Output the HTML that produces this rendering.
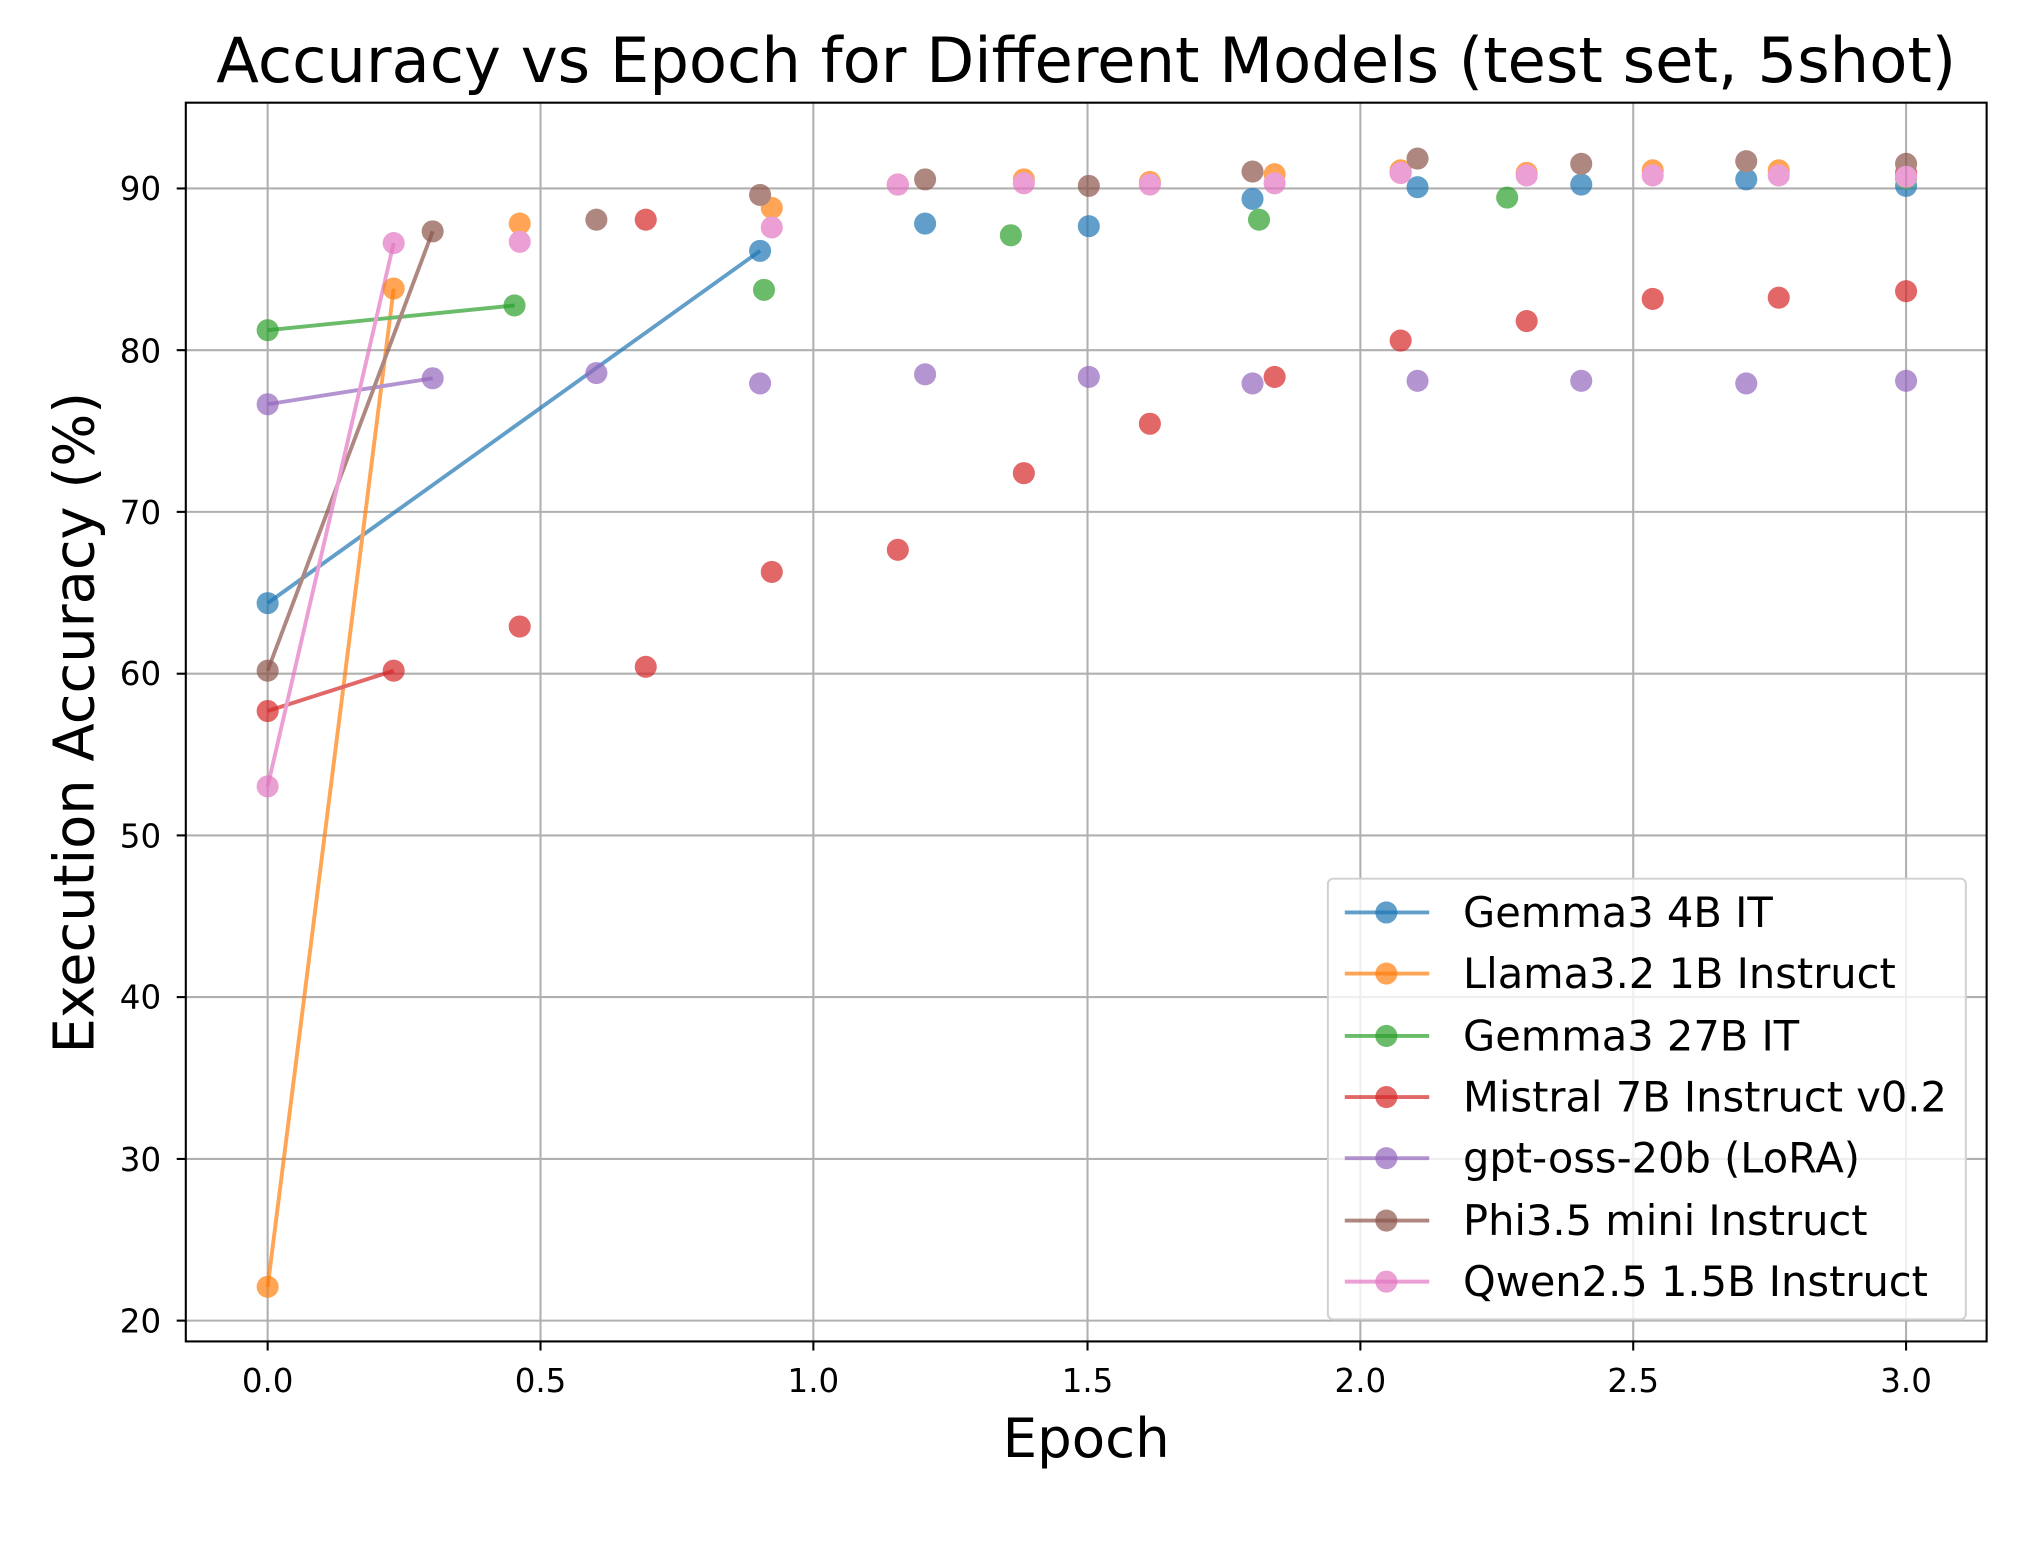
<!DOCTYPE html>
<html><head><style>html,body{margin:0;padding:0;background:#fff}svg{display:block}</style></head>
<body>
<svg width="2036" height="1552" viewBox="0 0 1567 1194" preserveAspectRatio="none" xmlns="http://www.w3.org/2000/svg" font-family="DejaVu Sans, Liberation Sans, sans-serif">
<rect width="1567" height="1194" fill="#fff"/>
<g stroke="#b0b0b0" stroke-width="1.6">
<line x1="206" y1="79" x2="206" y2="1032"/><line x1="416" y1="79" x2="416" y2="1032"/><line x1="626" y1="79" x2="626" y2="1032"/><line x1="837" y1="79" x2="837" y2="1032"/><line x1="1047" y1="79" x2="1047" y2="1032"/><line x1="1257" y1="79" x2="1257" y2="1032"/><line x1="1467" y1="79" x2="1467" y2="1032"/>
<line x1="143" y1="145" x2="1529" y2="145"/><line x1="143" y1="269.4" x2="1529" y2="269.4"/><line x1="143" y1="393.8" x2="1529" y2="393.8"/><line x1="143" y1="518.3" x2="1529" y2="518.3"/><line x1="143" y1="642.7" x2="1529" y2="642.7"/><line x1="143" y1="767.1" x2="1529" y2="767.1"/><line x1="143" y1="891.6" x2="1529" y2="891.6"/><line x1="143" y1="1016" x2="1529" y2="1016"/>
</g>
<g stroke-width="3" opacity="0.7">
<line x1="206" y1="464" x2="585" y2="193" stroke="#1f77b4"/>
<line x1="206" y1="990" x2="303" y2="222" stroke="#ff7f0e"/>
<line x1="206" y1="254" x2="396" y2="235" stroke="#2ca02c"/>
<line x1="206" y1="547" x2="303" y2="516" stroke="#d62728"/>
<line x1="206" y1="311" x2="333" y2="291" stroke="#9467bd"/>
<line x1="206" y1="516" x2="333" y2="178" stroke="#8c564b"/>
<line x1="206" y1="605" x2="303" y2="187" stroke="#e377c2"/>
</g>
<g opacity="0.7">
<g fill="#1f77b4"><circle cx="206" cy="464" r="8.5"/><circle cx="585" cy="193" r="8.5"/><circle cx="712" cy="172" r="8.5"/><circle cx="838" cy="174" r="8.5"/><circle cx="964" cy="153" r="8.5"/><circle cx="1091" cy="144" r="8.5"/><circle cx="1217" cy="142" r="8.5"/><circle cx="1344" cy="138" r="8.5"/><circle cx="1467" cy="143" r="8.5"/></g>
<g fill="#ff7f0e"><circle cx="206" cy="990" r="8.5"/><circle cx="303" cy="222" r="8.5"/><circle cx="400" cy="172" r="8.5"/><circle cx="594" cy="160" r="8.5"/><circle cx="788" cy="138" r="8.5"/><circle cx="885" cy="140" r="8.5"/><circle cx="981" cy="134" r="8.5"/><circle cx="1078" cy="131" r="8.5"/><circle cx="1175" cy="133" r="8.5"/><circle cx="1272" cy="131" r="8.5"/><circle cx="1369" cy="131" r="8.5"/><circle cx="1467" cy="135" r="8.5"/></g>
<g fill="#2ca02c"><circle cx="206" cy="254" r="8.5"/><circle cx="396" cy="235" r="8.5"/><circle cx="588" cy="223" r="8.5"/><circle cx="778" cy="181" r="8.5"/><circle cx="969" cy="169" r="8.5"/><circle cx="1160" cy="152" r="8.5"/><circle cx="1467" cy="137" r="8.5"/></g>
<g fill="#d62728"><circle cx="206" cy="547" r="8.5"/><circle cx="303" cy="516" r="8.5"/><circle cx="400" cy="482" r="8.5"/><circle cx="497" cy="513" r="8.5"/><circle cx="594" cy="440" r="8.5"/><circle cx="691" cy="423" r="8.5"/><circle cx="788" cy="364" r="8.5"/><circle cx="885" cy="326" r="8.5"/><circle cx="981" cy="290" r="8.5"/><circle cx="1078" cy="262" r="8.5"/><circle cx="1175" cy="247" r="8.5"/><circle cx="1272" cy="230" r="8.5"/><circle cx="1369" cy="229" r="8.5"/><circle cx="1467" cy="224" r="8.5"/><circle cx="497" cy="169" r="8.5"/><circle cx="691" cy="142" r="8.5"/><circle cx="1078" cy="133" r="8.5"/><circle cx="1467" cy="133" r="8.5"/></g>
<g fill="#9467bd"><circle cx="206" cy="311" r="8.5"/><circle cx="333" cy="291" r="8.5"/><circle cx="459" cy="287" r="8.5"/><circle cx="585" cy="295" r="8.5"/><circle cx="712" cy="288" r="8.5"/><circle cx="838" cy="290" r="8.5"/><circle cx="964" cy="295" r="8.5"/><circle cx="1091" cy="293" r="8.5"/><circle cx="1217" cy="293" r="8.5"/><circle cx="1344" cy="295" r="8.5"/><circle cx="1467" cy="293" r="8.5"/></g>
<g fill="#8c564b"><circle cx="206" cy="516" r="8.5"/><circle cx="333" cy="178" r="8.5"/><circle cx="459" cy="169" r="8.5"/><circle cx="585" cy="150" r="8.5"/><circle cx="712" cy="138" r="8.5"/><circle cx="838" cy="143" r="8.5"/><circle cx="964" cy="132" r="8.5"/><circle cx="1091" cy="122" r="8.5"/><circle cx="1217" cy="126" r="8.5"/><circle cx="1344" cy="124" r="8.5"/><circle cx="1467" cy="126" r="8.5"/></g>
<g fill="#e377c2"><circle cx="206" cy="605" r="8.5"/><circle cx="303" cy="187" r="8.5"/><circle cx="400" cy="186" r="8.5"/><circle cx="594" cy="175" r="8.5"/><circle cx="691" cy="142" r="8.5"/><circle cx="788" cy="141" r="8.5"/><circle cx="885" cy="142" r="8.5"/><circle cx="981" cy="141" r="8.5"/><circle cx="1078" cy="133" r="8.5"/><circle cx="1175" cy="135" r="8.5"/><circle cx="1272" cy="135" r="8.5"/><circle cx="1369" cy="135" r="8.5"/><circle cx="1467" cy="136" r="8.5"/></g>
</g>
<rect x="143" y="79" width="1386" height="953" fill="none" stroke="#000" stroke-width="1.6"/>
<g stroke="#000" stroke-width="1.6">
<line x1="206" y1="1032" x2="206" y2="1039"/><line x1="416" y1="1032" x2="416" y2="1039"/><line x1="626" y1="1032" x2="626" y2="1039"/><line x1="837" y1="1032" x2="837" y2="1039"/><line x1="1047" y1="1032" x2="1047" y2="1039"/><line x1="1257" y1="1032" x2="1257" y2="1039"/><line x1="1467" y1="1032" x2="1467" y2="1039"/>
<line x1="136" y1="145" x2="143" y2="145"/><line x1="136" y1="269.4" x2="143" y2="269.4"/><line x1="136" y1="393.8" x2="143" y2="393.8"/><line x1="136" y1="518.3" x2="143" y2="518.3"/><line x1="136" y1="642.7" x2="143" y2="642.7"/><line x1="136" y1="767.1" x2="143" y2="767.1"/><line x1="136" y1="891.6" x2="143" y2="891.6"/><line x1="136" y1="1016" x2="143" y2="1016"/>
</g>
<g font-size="25" text-anchor="middle" fill="#000">
<text x="206" y="1071">0.0</text><text x="416" y="1071">0.5</text><text x="626" y="1071">1.0</text><text x="837" y="1071">1.5</text><text x="1047" y="1071">2.0</text><text x="1257" y="1071">2.5</text><text x="1467" y="1071">3.0</text>
</g>
<g font-size="25" text-anchor="end" fill="#000">
<text x="124" y="154">90</text><text x="124" y="279">80</text><text x="124" y="403">70</text><text x="124" y="527">60</text><text x="124" y="652">50</text><text x="124" y="776">40</text><text x="124" y="901">30</text><text x="124" y="1025">20</text>
</g>
<text x="836" y="63" font-size="48" text-anchor="middle">Accuracy vs Epoch for Different Models (test set, 5shot)</text>
<text x="836" y="1121" font-size="42" text-anchor="middle">Epoch</text>
<text transform="translate(72,556) rotate(-90)" font-size="43" text-anchor="middle">Execution Accuracy (%)</text>
<rect x="1022" y="676" width="491" height="339" rx="4" fill="#fff" fill-opacity="0.8" stroke="#d0d0d0" stroke-width="1.5"/>
<g stroke-width="3" opacity="0.7">
<line x1="1035" y1="702" x2="1100" y2="702" stroke="#1f77b4"/><line x1="1035" y1="749" x2="1100" y2="749" stroke="#ff7f0e"/><line x1="1035" y1="797" x2="1100" y2="797" stroke="#2ca02c"/><line x1="1035" y1="844" x2="1100" y2="844" stroke="#d62728"/><line x1="1035" y1="891" x2="1100" y2="891" stroke="#9467bd"/><line x1="1035" y1="939" x2="1100" y2="939" stroke="#8c564b"/><line x1="1035" y1="986" x2="1100" y2="986" stroke="#e377c2"/>
</g>
<g opacity="0.7">
<circle cx="1067" cy="702" r="8.5" fill="#1f77b4"/><circle cx="1067" cy="749" r="8.5" fill="#ff7f0e"/><circle cx="1067" cy="797" r="8.5" fill="#2ca02c"/><circle cx="1067" cy="844" r="8.5" fill="#d62728"/><circle cx="1067" cy="891" r="8.5" fill="#9467bd"/><circle cx="1067" cy="939" r="8.5" fill="#8c564b"/><circle cx="1067" cy="986" r="8.5" fill="#e377c2"/>
</g>
<g font-size="32" fill="#000">
<text x="1126" y="713">Gemma3 4B IT</text><text x="1126" y="760">Llama3.2 1B Instruct</text><text x="1126" y="808">Gemma3 27B IT</text><text x="1126" y="855">Mistral 7B Instruct v0.2</text><text x="1126" y="902">gpt-oss-20b (LoRA)</text><text x="1126" y="950">Phi3.5 mini Instruct</text><text x="1126" y="997">Qwen2.5 1.5B Instruct</text>
</g>
</svg>
</body></html>
